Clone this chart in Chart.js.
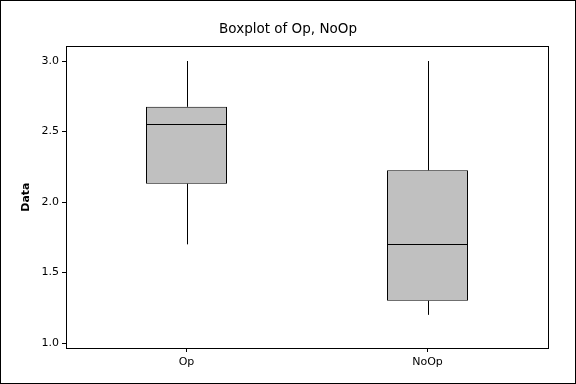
<!DOCTYPE html>
<html>
<head>
<meta charset="utf-8">
<script src="https://cdn.jsdelivr.net/npm/chart.js@4"></script>
<style>
  html, body { margin: 0; padding: 0; background: #fff; }
  canvas { display: block; }
</style>
</head>
<body>
<canvas id="boxplot" width="576" height="384"></canvas>
<script>
// Boxplot values
const groups = ["Op", "NoOp"];
const whiskerLow = [1.70, 1.20];
const q1 = [2.13, 1.30];
const median = [2.55, 1.70];
const q3 = [2.675, 2.225];
const whiskerHigh = [3.00, 3.00];
const yTicks = [1.0, 1.5, 2.0, 2.5, 3.0];

const fontFamily = "'DejaVu Sans', sans-serif";

// whiskers, median lines, plot frame and outer frame
const boxExtras = {
    id: 'boxExtras',
    beforeDatasetsDraw(chart) {
        const { ctx, scales: { x, y } } = chart;
        ctx.save();
        ctx.strokeStyle = '#000';
        ctx.lineWidth = 1;
        groups.forEach((g, i) => {
            const px = Math.round(x.getPixelForValue(i)) + 0.5;
            ctx.beginPath();
            ctx.moveTo(px, y.getPixelForValue(whiskerHigh[i]));
            ctx.lineTo(px, y.getPixelForValue(q3[i]));
            ctx.moveTo(px, y.getPixelForValue(q1[i]));
            ctx.lineTo(px, y.getPixelForValue(whiskerLow[i]));
            ctx.stroke();
        });
        ctx.restore();
    },
    afterDatasetsDraw(chart) {
        const { ctx, chartArea, scales: { x, y } } = chart;
        const meta = chart.getDatasetMeta(0);
        ctx.save();
        ctx.strokeStyle = '#000';
        ctx.lineWidth = 1;
        groups.forEach((g, i) => {
            const bar = meta.data[i];
            const half = bar.width / 2;
            const py = Math.round(y.getPixelForValue(median[i])) + 0.5;
            ctx.beginPath();
            ctx.moveTo(bar.x - half, py);
            ctx.lineTo(bar.x + half, py);
            ctx.stroke();
        });
        ctx.strokeRect(Math.round(chartArea.left) + 0.5, Math.round(chartArea.top) + 0.5,
            Math.round(chartArea.right - chartArea.left), Math.round(chartArea.bottom - chartArea.top));
        ctx.strokeRect(0.5, 0.5, chart.width - 1, chart.height - 1);
        ctx.restore();
    }
};

new Chart(document.getElementById('boxplot'), {
    type: 'bar',
    data: {
        labels: groups,
        datasets: [{
            label: 'Box',
            data: groups.map((g, i) => [q1[i], q3[i]]),
            backgroundColor: '#C0C0C0',
            borderColor: '#000',
            borderWidth: 1,
            borderSkipped: false,
            barPercentage: 0.336,
            categoryPercentage: 1
        }]
    },
    options: {
        responsive: false,
        animation: false,
        layout: { padding: { left: 14, right: 14, top: 0, bottom: 0 } },
        scales: {
            x: {
                grid: { display: true, offset: false, drawOnChartArea: false, drawTicks: true, tickLength: 4, color: '#000' },
                border: { display: true, color: '#000' },
                ticks: { color: '#000', font: { family: fontFamily, size: 11 }, padding: 4 },
                afterFit(scale) { scale.height = 36; }
            },
            y: {
                min: 0.965,
                max: 3.105,
                afterBuildTicks(scale) { scale.ticks = yTicks.map(v => ({ value: v })); },
                grid: { display: true, drawOnChartArea: false, drawTicks: true, tickLength: 4, color: '#000' },
                border: { display: true, color: '#000' },
                ticks: {
                    color: '#000',
                    font: { family: fontFamily, size: 11 },
                    padding: 3,
                    callback: v => Number(v).toFixed(1)
                },
                title: {
                    display: true,
                    text: 'Data',
                    color: '#000',
                    font: { family: fontFamily, size: 11, weight: 'bold' },
                    padding: { top: 6, bottom: 4 }
                },
                afterFit(scale) { scale.width = 52; }
            },
            yRight: {
                position: 'right',
                display: true,
                grid: { display: false },
                border: { display: false },
                ticks: { display: false },
                afterFit(scale) { scale.width = 14; }
            }
        },
        plugins: {
            legend: { display: false },
            tooltip: { enabled: false },
            title: {
                display: true,
                text: 'Boxplot of Op, NoOp',
                color: '#000',
                font: { family: fontFamily, size: 13.5, weight: 'normal', lineHeight: 1.2 },
                padding: { top: 21, bottom: 9 }
            }
        }
    },
    plugins: [boxExtras]
});
</script>
</body>
</html>
